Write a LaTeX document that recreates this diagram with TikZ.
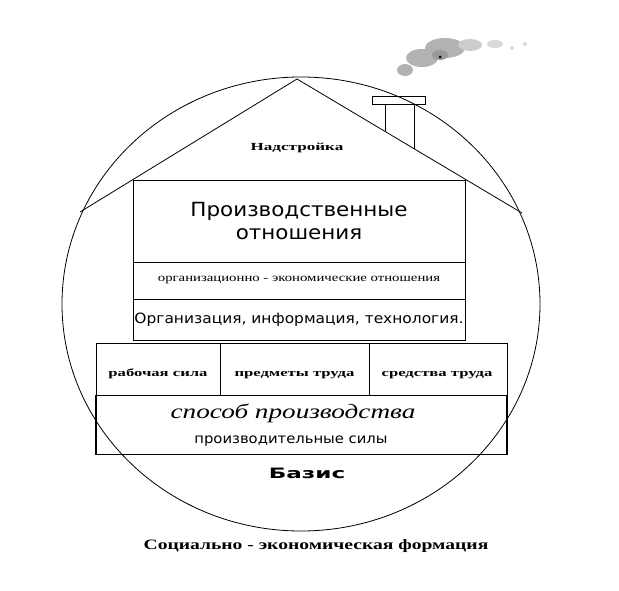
\documentclass[tikz,border=0pt]{standalone}
\usepackage{fontspec}
\usepackage{graphicx}
\setmainfont{Liberation Serif}
\newfontfamily\sansf{DejaVu Sans}
\begin{document}
\begin{tikzpicture}[x=1pt,y=-1pt,
  ln/.style={draw=black,line width=0.8pt},
  cellbox/.style={draw=black,line width=0.6pt,minimum height=52pt,inner sep=0pt,font=\bfseries\fontsize{9}{10}\selectfont},
  smoke/.style={fill=gray!60,draw=none}]
\useasboundingbox (0,0) rectangle (619,591);
\draw[ln] (301,304) ellipse [x radius=239, y radius=227];
% roof
\coordinate (rl) at (80,212); \coordinate (ra) at (297,79); \coordinate (rr) at (522,213);
\draw[ln] (rl) -- (ra) -- (rr);
% chimney
\draw[ln] (385,131) -- (385,104) (414,104) -- (414,149);
\draw[ln] (372,96) rectangle (425,104);
% smoke
\fill[smoke] (405,70) ellipse [x radius=8,y radius=6];
\fill[smoke] (422,58) ellipse [x radius=16,y radius=9];
\fill[smoke] (445,48) ellipse [x radius=20,y radius=10];
\fill[gray!40] (470,45) ellipse [x radius=12,y radius=6];
\fill[gray!30] (495,44) ellipse [x radius=8,y radius=4];
\fill[gray!30] (512,48) circle (2);
\fill[gray!30] (525,44) circle (2);
\fill[gray!80] (440,55) ellipse [x radius=8,y radius=5];
\fill[black] (440,57) circle (1.5);
\node[font=\bfseries\fontsize{9}{10}\selectfont] (nad) at (297,148) {\scalebox{1.9}[1.2]{Надстройка}};
% main box
\node[draw,line width=0.6pt,minimum width=332pt,minimum height=82pt,inner sep=0pt] (po) at (299,221) {};
\node[font=\sansf\fontsize{15}{19}\selectfont,align=center] at (po) {\scalebox{1.43}[1.3]{Производственные}\\[4pt]\scalebox{1.43}[1.3]{отношения}};
\node[draw,line width=0.6pt,minimum width=332pt,minimum height=37pt,inner sep=0pt,font=\fontsize{9}{10}\selectfont] (oe) at (299,280.5) {\scalebox{1.64}[1.25]{организационно - экономические отношения}};
\node[draw,line width=0.6pt,minimum width=332pt,minimum height=41pt,inner sep=0pt,font=\sansf\fontsize{10.5}{12}\selectfont] (oit) at (299,319.5) {\scalebox{1.47}[1.35]{Организация, информация, технология.}};
% cells
\node[cellbox,minimum width=124pt] (rs) at (158,369) {};
\node[cellbox,minimum width=149pt] (pt) at (294.5,369) {};
\node[cellbox,minimum width=138pt] (st) at (438,369) {};
\node[font=\bfseries\fontsize{9}{10}\selectfont,anchor=base] at (158,376) {\scalebox{1.85}[1.2]{рабочая сила}};
\node[font=\bfseries\fontsize{9}{10}\selectfont,anchor=base] at (294.5,376) {\scalebox{1.85}[1.2]{предметы труда}};
\node[font=\bfseries\fontsize{9}{10}\selectfont,anchor=base] at (437,376) {\scalebox{1.85}[1.2]{средства труда}};
\node[draw,line width=1.5pt,minimum width=411pt,minimum height=59pt,inner sep=0pt] (sp) at (301.5,425) {};
\node[font=\itshape\fontsize{17}{18}\selectfont] at (293,413) {\scalebox{1.6}[1.2]{способ производства}};
\node[font=\sansf\fontsize{10.5}{12}\selectfont] at (291,441) {\scalebox{1.41}[1.3]{производительные силы}};
\node[font=\sansf\bfseries\fontsize{11}{12}\selectfont] (baz) at (307,473) {\scalebox{2.1}[1.3]{Базис}};
\node[font=\bfseries\fontsize{11}{12}\selectfont] (sef) at (316,546) {\scalebox{1.78}[1.3]{Социально - экономическая формация}};
\end{tikzpicture}
\end{document}
